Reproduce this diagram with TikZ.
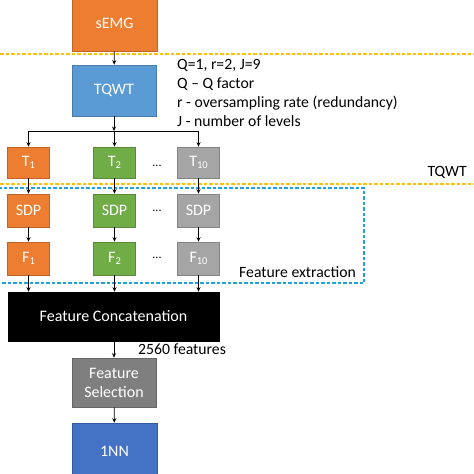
\documentclass[tikz,border=0pt]{standalone}
\usepackage{fontspec}
\setmainfont{Carlito}
\usepackage{tikz}
\usetikzlibrary{arrows.meta}

\definecolor{boxorange}{HTML}{ED7D31}
\definecolor{boxblue}{HTML}{5B9BD5}
\definecolor{boxgreen}{HTML}{70AD47}
\definecolor{boxgray}{HTML}{A5A5A5}
\definecolor{boxdark}{HTML}{7F7F7F}
\definecolor{boxnavy}{HTML}{4472C4}
\definecolor{lineyellow}{HTML}{FFC000}
\definecolor{linecyan}{HTML}{1FA3E0}

\newcommand{\lowidx}[1]{\raisebox{-0.35ex}{\fontsize{10.5}{10.5}\selectfont #1}}

\tikzset{
  block/.style={fill=#1, draw=#1!80!black, line width=0.6pt, text=white,
    inner sep=0pt, font=\fontsize{16}{18}\selectfont, align=center},
  flow/.style={-{Stealth[length=4.5pt,width=4pt]}, line width=0.8pt},
  note/.style={inner sep=0pt, font=\fontsize{15.7}{19}\selectfont}
}

\begin{document}
\begin{tikzpicture}[x=1pt, y=-1pt]
    \useasboundingbox (0,0) rectangle (474,474);
    % separators
    \draw[lineyellow, dashed, line width=1.2pt, dash pattern=on 3.5pt off 2pt] (0,54) -- (474,54);
    \draw[lineyellow, dashed, line width=1.2pt, dash pattern=on 3.5pt off 2pt] (0,184) -- (474,184);
    \draw[linecyan, dashed, line width=1.2pt, dash pattern=on 3.5pt off 2pt] (-2,188) rectangle (364,283);
    % decomposition
    \node[block=boxorange, minimum width=85pt, minimum height=56pt] (semg) at (114.5,23) {sEMG};
    \node[block=boxblue, minimum width=84pt, minimum height=51pt] (tqwt) at (114,90.5) {TQWT};
    \draw[flow] (semg) -- (tqwt);
    \node[note, anchor=north west, align=left] (params) at (177,59) {Q=1, r=2, J=9\\Q -- Q factor\\r - oversampling rate (redundancy)\\J - number of levels};
    \coordinate (split) at (114,131);
    \draw[flow] (tqwt) -- (split);
    % three sub-bands
    \foreach \col/\x/\idx/\clr in {1/28.5/1/boxorange, 2/114.5/2/boxgreen, 3/198.5/10/boxgray}{
      \node[block=\clr, minimum width=42pt, minimum height=31pt] (t\col) at (\x,162.5) {T\lowidx{\idx}};
      \node[block=\clr, minimum width=42pt, minimum height=33pt] (sdp\col) at (\x,210.5) {SDP};
      \node[block=\clr, minimum width=42pt, minimum height=33pt] (f\col) at (\x,258.5) {F\lowidx{\idx}};
      \draw[flow] (t\col) -- (sdp\col);
      \draw[flow] (sdp\col) -- (f\col);
    }
    \draw[line width=0.8pt] (t1 |- split) -- (t3 |- split);
    \foreach \col in {1,2,3}{
      \draw[flow] (t\col |- split) -- (t\col);
    }
    \foreach \y in {166,211,258}{
      \node[note, font=\fontsize{12}{12}\selectfont] (dots\y) at (157,\y) {...};
    }
    \node[note, anchor=east] (tqwtlabel) at (467,172) {TQWT};
    \node[note, anchor=south east] (fextlabel) at (356,278) {Feature extraction};
    % classification
    \node[block=black, minimum width=211pt, minimum height=49pt] (concat) at (113.5,316.5) {Feature Concatenation};
    \foreach \col in {1,2,3}{
      \draw[flow] (f\col) -- (f\col |- concat.north);
    }
    \node[block=boxdark, minimum width=84pt, minimum height=49pt, font=\fontsize{16}{19}\selectfont] (fsel) at (114,382.5) {Feature\\Selection};
    \draw[flow] (concat.south -| fsel) -- (fsel);
    \node[note, anchor=west] (count) at (138,349) {2560 features};
    \node[block=boxnavy, minimum width=85pt, minimum height=56pt] (nn) at (114.5,451) {1NN};
    \draw[flow] (fsel) -- (nn);
\end{tikzpicture}
\end{document}
